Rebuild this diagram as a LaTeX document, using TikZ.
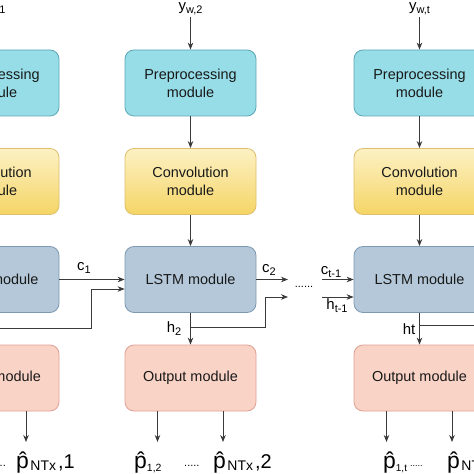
\documentclass[tikz,border=0pt]{standalone}
\usepackage{fontspec}
\setmainfont{Liberation Sans}
\usetikzlibrary{arrows.meta,calc}
\definecolor{prefill}{HTML}{96DDE8}
\definecolor{predraw}{HTML}{5EA7B6}
\definecolor{convtop}{HTML}{FCF1C4}
\definecolor{convbot}{HTML}{F5D566}
\definecolor{convdraw}{HTML}{DDBF6C}
\definecolor{lstmfill}{HTML}{B4C8D9}
\definecolor{lstmdraw}{HTML}{7C99B2}
\definecolor{outfill}{HTML}{FAD3C7}
\definecolor{outdraw}{HTML}{DFA193}
\definecolor{linec}{HTML}{3A3A3A}
\newcommand\myfs[1]{\fontsize{#1}{#1}\selectfont}
\newcommand\phat{{\myfs{23}\^{p}}}
\newcommand\pnt[1]{\phat\hspace{1.5bp}\raisebox{-2bp}{\myfs{14}NTx}\hspace{2bp}{\myfs{20},#1}}
\begin{document}
\begin{tikzpicture}[x=1bp,y=-1bp,
  box/.style={draw, rounded corners=9bp, minimum width=131bp, minimum height=66bp,
    align=center, font=\fontsize{14.5}{18}\selectfont, line width=0.8bp, inner sep=0pt, text=black!90},
  pre/.style={box, fill=prefill, draw=predraw},
  conv/.style={box, top color=convtop, bottom color=convbot, draw=convdraw},
  lstm/.style={box, fill=lstmfill, draw=lstmdraw},
  outm/.style={box, fill=outfill, draw=outdraw},
  arr/.style={draw=linec, line width=0.8bp, -{Stealth[length=7bp,width=5.5bp]}},
  ln/.style={draw=linec, line width=0.8bp},
  lab/.style={font=\myfs{15}, inner sep=1bp},
  plab/.style={anchor=base west, inner sep=0pt},
  dots/.style={anchor=base west, inner sep=0pt, font=\myfs{11}}]
\path[use as bounding box] (0,0) rectangle (474,474);
\clip (0,0) rectangle (474,474);
\fill[white] (0,0) rectangle (474,474);

\foreach \i/\x/\t in {1/-6.5/1, 2/190.5/2, 3/419.5/t} {
  \node[lab, anchor=base] (y\i) at (\x,11) {y\raisebox{-3bp}{\myfs{11}w,\t}};
  \node[pre]  (pre\i)  at (\x,83)    {Preprocessing\\module};
  \node[conv] (conv\i) at (\x,181.5) {Convolution\\module};
  \node[lstm] (lstm\i) at (\x,279.5) {LSTM module};
  \node[outm] (out\i)  at (\x,378)   {Output module};
  \draw[arr] (y\i.south) -- (pre\i.north);
  \draw[arr] (pre\i) -- (conv\i);
  \draw[arr] (conv\i) -- (lstm\i);
  \draw[arr] (lstm\i) -- (out\i);
}

% branch points on the h lines
\coordinate (br1) at (-6.5,328);
\coordinate (br2) at (190.5,327);
\coordinate (br3) at (419.5,325);
\coordinate (br3end) at (480,325);

% column 1 -> column 2
\draw[arr] (lstm1.east) -- (lstm2.west);
\node[lab] (c1) at (84,268) {c\raisebox{-3bp}{\myfs{11}1}};
\coordinate (h1end) at ($(lstm2.west)+(0,9.5)$);
\draw[arr] (br1) -| ($(h1end)+(-33,0)$) -- (h1end);

% column 2 -> dots
\coordinate (c2end) at (288,279.5);
\coordinate (h2end) at (288,297);
\draw[arr] (lstm2.east) -- (c2end);
\draw[arr] (br2) -| ($(h2end)+(-23,0)$) -- (h2end);
\node[lab] (c2) at (269,270) {c\raisebox{-3bp}{\myfs{11}2}};
\node[lab] (h2) at (174,329) {h\raisebox{-3bp}{\myfs{11}2}};
\node[font=\myfs{11}, inner sep=0pt] (ldots) at (304,287) {......};

% dots -> column 3
\coordinate (c3start) at (322,279.5);
\coordinate (h3start) at (322,297);
\draw[arr] (c3start) -- (lstm3.west);
\draw[arr] (h3start) -- (lstm3.west |- h3start);
\node[lab] (ct) at (331,272) {c\raisebox{-3bp}{\myfs{11}t-1}};
\node[lab] (ht1) at (337,306) {h\raisebox{-3bp}{\myfs{11}t-1}};
\node[lab] (hta) at (409,329) {ht};
\draw[ln] (br3) -- (br3end);

% output arrows
\foreach \i/\x in {1/-6.5, 2/190.5, 3/419.5} {
  \coordinate (pa\i) at (\x-33,442);
  \coordinate (pb\i) at (\x+32.5,442);
  \draw[arr] (out\i.south -| pa\i) -- (pa\i);
  \draw[arr] (out\i.south -| pb\i) -- (pb\i);
}

% output labels
\node[dots, anchor=base east] (d1) at (6,466) {.....};
\node[plab] (pn1) at (16,468) {\pnt{1}};
\node[plab] (p12) at (134,468) {\phat\raisebox{-3bp}{\myfs{10.5}1,2}};
\node[dots] (d2) at (184,466) {.....};
\node[plab] (pn2) at (213,468) {\pnt{2}};
\node[plab] (p1t) at (383,468) {\phat\raisebox{-3bp}{\myfs{10}1,t}};
\node[dots, font=\myfs{9}] (d3) at (410,466) {.....};
\node[plab] (pnt) at (447,468) {\pnt{t}};
\end{tikzpicture}
\end{document}
